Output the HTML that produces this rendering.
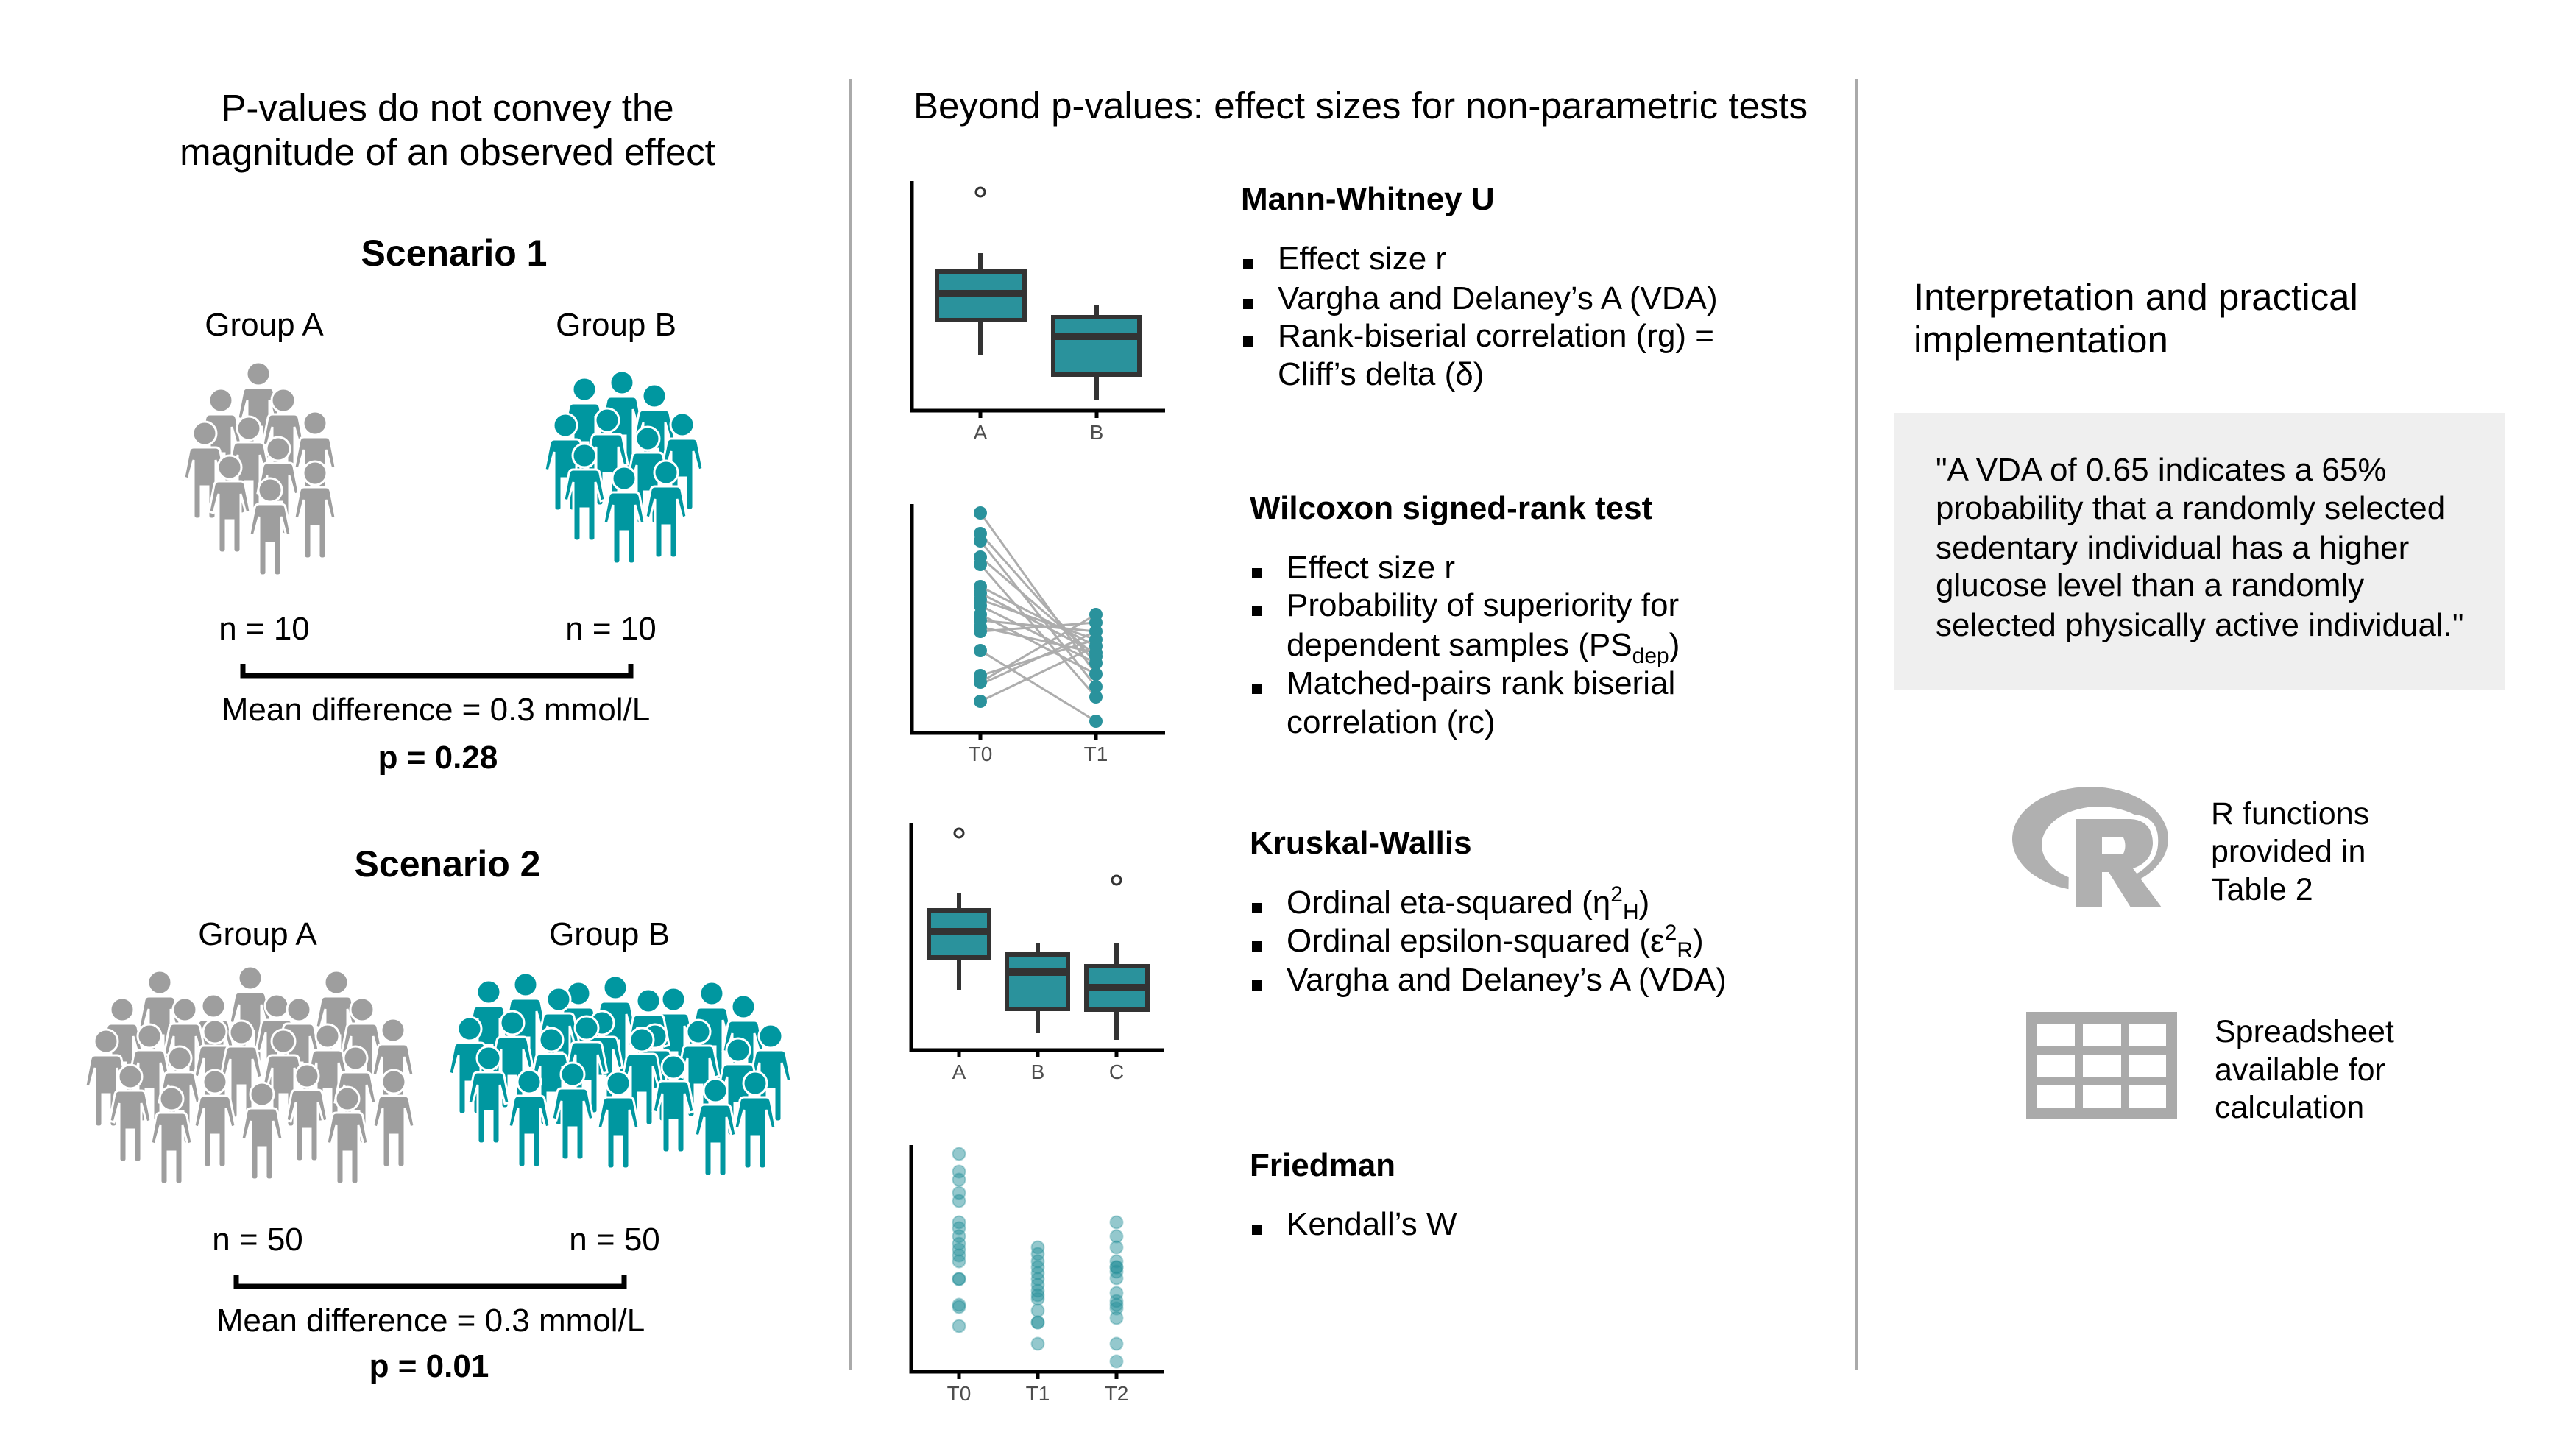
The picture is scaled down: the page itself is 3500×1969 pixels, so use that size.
<!DOCTYPE html>
<html><head><meta charset="utf-8"><style>
html,body{margin:0;padding:0;background:#fff;}
svg{display:block;font-family:"Liberation Sans",Arial,sans-serif;}
</style></head><body>
<svg width="3500" height="1969" viewBox="0 0 3500 1969" xmlns="http://www.w3.org/2000/svg">
<defs>
<path id="p" d="M0,0 m-16,16 a16,16 0 1,0 32,0 a16,16 0 1,0 -32,0 Z M-15,35 H15 Q20,35 21,40 L28,76 L22,78 L15,52 V128 Q15,132 10,132 Q5,132 5,128 V88 H-5 V128 Q-5,132 -10,132 Q-15,132 -15,128 V52 L-22,78 L-28,76 L-21,40 Q-20,35 -15,35 Z" stroke="#fff" stroke-width="3"/>
</defs>
<rect width="3500" height="1969" fill="#fff"/>
<line x1="1155" y1="108" x2="1155" y2="1862" stroke="#aaa" stroke-width="4"/>
<line x1="2522" y1="108" x2="2522" y2="1862" stroke="#aaa" stroke-width="4"/>

<g font-size="51" text-anchor="middle" fill="#000">
<text x="608" y="164">P-values do not convey the</text>
<text x="608" y="224">magnitude of an observed effect</text>
</g>
<g text-anchor="middle" fill="#000">
<text x="617" y="361" font-size="50" font-weight="bold">Scenario 1</text>
<text x="359" y="456" font-size="44">Group A</text>
<text x="837" y="456" font-size="44">Group B</text>
<text x="359" y="869" font-size="44">n = 10</text>
<text x="830" y="869" font-size="44">n = 10</text>
<text x="592" y="979" font-size="44">Mean difference = 0.3 mmol/L</text>
<text x="595" y="1044" font-size="44" font-weight="bold">p = 0.28</text>
<text x="608" y="1191" font-size="50" font-weight="bold">Scenario 2</text>
<text x="350" y="1284" font-size="44">Group A</text>
<text x="828" y="1284" font-size="44">Group B</text>
<text x="350" y="1699" font-size="44">n = 50</text>
<text x="835" y="1699" font-size="44">n = 50</text>
<text x="585" y="1809" font-size="44">Mean difference = 0.3 mmol/L</text>
<text x="583" y="1871" font-size="44" font-weight="bold">p = 0.01</text>
</g>
<path d="M330,902 V918 H857 V902" fill="none" stroke="#000" stroke-width="7"/>
<path d="M321,1732 V1748 H848 V1732" fill="none" stroke="#000" stroke-width="7"/>

<g fill="#9e9e9e">
<use href="#p" transform="translate(351,492)"/>
<use href="#p" transform="translate(300,528)"/>
<use href="#p" transform="translate(385,528)"/>
<use href="#p" transform="translate(428,559)"/>
<use href="#p" transform="translate(338,566)"/>
<use href="#p" transform="translate(278,573)"/>
<use href="#p" transform="translate(378,594)"/>
<use href="#p" transform="translate(312,619)"/>
<use href="#p" transform="translate(428,627)"/>
<use href="#p" transform="translate(367,650)"/>
</g>
<g fill="#0097a0">
<use href="#p" transform="translate(845,504)"/>
<use href="#p" transform="translate(794,513)"/>
<use href="#p" transform="translate(889,522)"/>
<use href="#p" transform="translate(825,555)"/>
<use href="#p" transform="translate(927,561)"/>
<use href="#p" transform="translate(768,562)"/>
<use href="#p" transform="translate(880,580)"/>
<use href="#p" transform="translate(794,603)"/>
<use href="#p" transform="translate(905,626)"/>
<use href="#p" transform="translate(848,634)"/>
</g>

<g fill="#9e9e9e">
<use href="#p" transform="translate(340,1313)"/>
<use href="#p" transform="translate(217,1319)"/>
<use href="#p" transform="translate(457,1319)"/>
<use href="#p" transform="translate(290,1351)"/>
<use href="#p" transform="translate(376,1351)"/>
<use href="#p" transform="translate(166,1356)"/>
<use href="#p" transform="translate(251,1356)"/>
<use href="#p" transform="translate(406,1356)"/>
<use href="#p" transform="translate(492,1356)"/>
<use href="#p" transform="translate(534,1384)"/>
<use href="#p" transform="translate(292,1386)"/>
<use href="#p" transform="translate(328,1387)"/>
<use href="#p" transform="translate(203,1392)"/>
<use href="#p" transform="translate(445,1392)"/>
<use href="#p" transform="translate(385,1399)"/>
<use href="#p" transform="translate(144,1399)"/>
<use href="#p" transform="translate(244,1422)"/>
<use href="#p" transform="translate(483,1422)"/>
<use href="#p" transform="translate(417,1446)"/>
<use href="#p" transform="translate(177,1447)"/>
<use href="#p" transform="translate(292,1454)"/>
<use href="#p" transform="translate(535,1454)"/>
<use href="#p" transform="translate(356,1471)"/>
<use href="#p" transform="translate(233,1477)"/>
<use href="#p" transform="translate(472,1477)"/>
</g>
<g fill="#0097a0">
<use href="#p" transform="translate(714,1322)"/>
<use href="#p" transform="translate(664,1332)"/>
<use href="#p" transform="translate(836,1326)"/>
<use href="#p" transform="translate(786,1334)"/>
<use href="#p" transform="translate(967,1334)"/>
<use href="#p" transform="translate(759,1342)"/>
<use href="#p" transform="translate(915,1342)"/>
<use href="#p" transform="translate(881,1344)"/>
<use href="#p" transform="translate(1010,1352)"/>
<use href="#p" transform="translate(696,1374)"/>
<use href="#p" transform="translate(818,1374)"/>
<use href="#p" transform="translate(638,1382)"/>
<use href="#p" transform="translate(797,1381)"/>
<use href="#p" transform="translate(949,1386)"/>
<use href="#p" transform="translate(890,1392)"/>
<use href="#p" transform="translate(1047,1392)"/>
<use href="#p" transform="translate(749,1397)"/>
<use href="#p" transform="translate(872,1397)"/>
<use href="#p" transform="translate(1003,1411)"/>
<use href="#p" transform="translate(664,1422)"/>
<use href="#p" transform="translate(915,1434)"/>
<use href="#p" transform="translate(778,1444)"/>
<use href="#p" transform="translate(719,1454)"/>
<use href="#p" transform="translate(840,1456)"/>
<use href="#p" transform="translate(1026,1456)"/>
<use href="#p" transform="translate(972,1466)"/>
</g>

<text x="1241" y="161" font-size="51" fill="#000">Beyond p-values: effect sizes for non-parametric tests</text>

<g stroke="#000" stroke-width="5" fill="none">
<path d="M1239,246 V558 H1583"/>
<path d="M1332,558 V568 M1490,558 V568"/>
</g>
<g stroke="#333" stroke-width="6">
<line x1="1332" y1="344" x2="1332" y2="482"/>
<rect x="1273" y="369" width="119" height="66" fill="#2a929c"/>
<line x1="1273" y1="399" x2="1392" y2="399" stroke-width="10"/>
<line x1="1490" y1="415" x2="1490" y2="543"/>
<rect x="1431" y="431" width="117" height="78" fill="#2a929c"/>
<line x1="1431" y1="457" x2="1548" y2="457" stroke-width="10"/>
</g>
<circle cx="1332" cy="261" r="6" fill="none" stroke="#333" stroke-width="3"/>
<g font-size="28" fill="#4d4d4d" text-anchor="middle">
<text x="1332" y="597">A</text><text x="1490" y="597">B</text>
</g>

<text x="1686" y="285" font-size="44" font-weight="bold">Mann-Whitney U</text>
<g font-size="44" fill="#000">
<rect x="1689" y="352" width="14" height="14"/><text x="1736" y="366">Effect size r</text>
<rect x="1689" y="406" width="14" height="14"/><text x="1736" y="420">Vargha and Delaney’s A (VDA)</text>
<rect x="1689" y="457" width="14" height="14"/><text x="1736" y="471">Rank-biserial correlation (rg) =</text>
<text x="1736" y="523">Cliff’s delta (δ)</text>
</g>

<g stroke="#000" stroke-width="5" fill="none">
<path d="M1239,685 V996 H1583"/>
<path d="M1332,996 V1006 M1489,996 V1006"/>
</g>
<g stroke="#777" stroke-width="3" opacity="0.6">
<line x1="1332" y1="697" x2="1489" y2="916"/>
<line x1="1332" y1="725" x2="1489" y2="901"/>
<line x1="1332" y1="735" x2="1489" y2="933"/>
<line x1="1332" y1="757" x2="1489" y2="892"/>
<line x1="1332" y1="767" x2="1489" y2="947"/>
<line x1="1332" y1="797" x2="1489" y2="878"/>
<line x1="1332" y1="806" x2="1489" y2="887"/>
<line x1="1332" y1="815" x2="1489" y2="869"/>
<line x1="1332" y1="823" x2="1489" y2="901"/>
<line x1="1332" y1="835" x2="1489" y2="916"/>
<line x1="1332" y1="843" x2="1489" y2="858"/>
<line x1="1332" y1="852" x2="1489" y2="887"/>
<line x1="1332" y1="858" x2="1489" y2="846"/>
<line x1="1332" y1="884" x2="1489" y2="980"/>
<line x1="1332" y1="918" x2="1489" y2="869"/>
<line x1="1332" y1="927" x2="1489" y2="835"/>
<line x1="1332" y1="953" x2="1489" y2="878"/>
<line x1="1332" y1="930" x2="1489" y2="858"/>
</g>
<g fill="#2a929c">
<circle cx="1332" cy="697" r="9"/><circle cx="1332" cy="725" r="9"/><circle cx="1332" cy="735" r="9"/><circle cx="1332" cy="757" r="9"/><circle cx="1332" cy="767" r="9"/><circle cx="1332" cy="797" r="9"/><circle cx="1332" cy="806" r="9"/><circle cx="1332" cy="815" r="9"/><circle cx="1332" cy="823" r="9"/><circle cx="1332" cy="835" r="9"/><circle cx="1332" cy="843" r="9"/><circle cx="1332" cy="852" r="9"/><circle cx="1332" cy="858" r="9"/><circle cx="1332" cy="884" r="9"/><circle cx="1332" cy="918" r="9"/><circle cx="1332" cy="927" r="9"/><circle cx="1332" cy="953" r="9"/>
<circle cx="1489" cy="835" r="9"/><circle cx="1489" cy="846" r="9"/><circle cx="1489" cy="858" r="9"/><circle cx="1489" cy="869" r="9"/><circle cx="1489" cy="878" r="9"/><circle cx="1489" cy="887" r="9"/><circle cx="1489" cy="892" r="9"/><circle cx="1489" cy="901" r="9"/><circle cx="1489" cy="916" r="9"/><circle cx="1489" cy="933" r="9"/><circle cx="1489" cy="947" r="9"/><circle cx="1489" cy="980" r="9"/>
</g>
<g font-size="28" fill="#4d4d4d" text-anchor="middle">
<text x="1332" y="1034">T0</text><text x="1489" y="1034">T1</text>
</g>

<text x="1698" y="705" font-size="44" font-weight="bold">Wilcoxon signed-rank test</text>
<g font-size="44" fill="#000">
<rect x="1701" y="772" width="14" height="14"/><text x="1748" y="786">Effect size r</text>
<rect x="1701" y="823" width="14" height="14"/><text x="1748" y="837">Probability of superiority for</text>
<text x="1748" y="891">dependent samples (PS<tspan font-size="30" dy="10">dep</tspan><tspan dy="-10">)</tspan></text>
<rect x="1701" y="929" width="14" height="14"/><text x="1748" y="943">Matched-pairs rank biserial</text>
<text x="1748" y="996">correlation (rc)</text>
</g>

<g stroke="#000" stroke-width="5" fill="none">
<path d="M1238,1119 V1427 H1582"/>
<path d="M1303,1427 V1437 M1410,1427 V1437 M1517,1427 V1437"/>
</g>
<g stroke="#333" stroke-width="6">
<line x1="1303" y1="1213" x2="1303" y2="1345"/>
<rect x="1262" y="1237" width="82" height="64" fill="#2a929c"/>
<line x1="1262" y1="1266" x2="1344" y2="1266" stroke-width="10"/>
<line x1="1410" y1="1282" x2="1410" y2="1404"/>
<rect x="1368" y="1297" width="83" height="74" fill="#2a929c"/>
<line x1="1368" y1="1321" x2="1451" y2="1321" stroke-width="10"/>
<line x1="1517" y1="1282" x2="1517" y2="1413"/>
<rect x="1476" y="1313" width="83" height="59" fill="#2a929c"/>
<line x1="1476" y1="1342" x2="1559" y2="1342" stroke-width="10"/>
</g>
<circle cx="1303" cy="1132" r="6" fill="none" stroke="#333" stroke-width="3"/>
<circle cx="1517" cy="1196" r="6" fill="none" stroke="#333" stroke-width="3"/>
<g font-size="28" fill="#4d4d4d" text-anchor="middle">
<text x="1303" y="1466">A</text><text x="1410" y="1466">B</text><text x="1517" y="1466">C</text>
</g>

<text x="1698" y="1160" font-size="44" font-weight="bold">Kruskal-Wallis</text>
<g font-size="44" fill="#000">
<rect x="1701" y="1227" width="14" height="14"/><text x="1748" y="1241">Ordinal eta-squared (η<tspan font-size="30" dy="-16">2</tspan><tspan font-size="30" dy="24">H</tspan><tspan dy="-8">)</tspan></text>
<rect x="1701" y="1279" width="14" height="14"/><text x="1748" y="1293">Ordinal epsilon-squared (ε<tspan font-size="30" dy="-16">2</tspan><tspan font-size="30" dy="24">R</tspan><tspan dy="-8">)</tspan></text>
<rect x="1701" y="1332" width="14" height="14"/><text x="1748" y="1346">Vargha and Delaney’s A (VDA)</text>
</g>

<g stroke="#000" stroke-width="5" fill="none">
<path d="M1238,1556 V1864 H1582"/>
<path d="M1303,1864 V1874 M1410,1864 V1874 M1517,1864 V1874"/>
</g>
<g fill="#2a929c" fill-opacity="0.5" stroke="#2a929c" stroke-opacity="0.35" stroke-width="2">
<circle cx="1303" cy="1568" r="8.5"/><circle cx="1303" cy="1592" r="8.5"/><circle cx="1303" cy="1603" r="8.5"/><circle cx="1303" cy="1621" r="8.5"/><circle cx="1303" cy="1632" r="8.5"/><circle cx="1303" cy="1661" r="8.5"/><circle cx="1303" cy="1669" r="8.5"/><circle cx="1303" cy="1680" r="8.5"/><circle cx="1303" cy="1690" r="8.5"/><circle cx="1303" cy="1698" r="8.5"/><circle cx="1303" cy="1706" r="8.5"/><circle cx="1303" cy="1714" r="8.5"/><circle cx="1303" cy="1738" r="8.5"/><circle cx="1303" cy="1738" r="8.5"/><circle cx="1303" cy="1773" r="8.5"/><circle cx="1303" cy="1776" r="8.5"/><circle cx="1303" cy="1802" r="8.5"/>
<circle cx="1410" cy="1695" r="8.5"/><circle cx="1410" cy="1704" r="8.5"/><circle cx="1410" cy="1714" r="8.5"/><circle cx="1410" cy="1722" r="8.5"/><circle cx="1410" cy="1730" r="8.5"/><circle cx="1410" cy="1738" r="8.5"/><circle cx="1410" cy="1746" r="8.5"/><circle cx="1410" cy="1754" r="8.5"/><circle cx="1410" cy="1760" r="8.5"/><circle cx="1410" cy="1765" r="8.5"/><circle cx="1410" cy="1781" r="8.5"/><circle cx="1410" cy="1797" r="8.5"/><circle cx="1410" cy="1797" r="8.5"/><circle cx="1410" cy="1826" r="8.5"/>
<circle cx="1517" cy="1661" r="8.5"/><circle cx="1517" cy="1680" r="8.5"/><circle cx="1517" cy="1695" r="8.5"/><circle cx="1517" cy="1714" r="8.5"/><circle cx="1517" cy="1722" r="8.5"/><circle cx="1517" cy="1722" r="8.5"/><circle cx="1517" cy="1728" r="8.5"/><circle cx="1517" cy="1737" r="8.5"/><circle cx="1517" cy="1757" r="8.5"/><circle cx="1517" cy="1768" r="8.5"/><circle cx="1517" cy="1773" r="8.5"/><circle cx="1517" cy="1778" r="8.5"/><circle cx="1517" cy="1791" r="8.5"/><circle cx="1517" cy="1826" r="8.5"/><circle cx="1517" cy="1850" r="8.5"/>
</g>
<g font-size="28" fill="#4d4d4d" text-anchor="middle">
<text x="1303" y="1903">T0</text><text x="1410" y="1903">T1</text><text x="1517" y="1903">T2</text>
</g>

<text x="1698" y="1598" font-size="44" font-weight="bold">Friedman</text>
<g font-size="44" fill="#000">
<rect x="1701" y="1664" width="14" height="14"/><text x="1748" y="1678">Kendall’s W</text>
</g>

<g font-size="51" fill="#000">
<text x="2600" y="421">Interpretation and practical</text>
<text x="2600" y="479">implementation</text>
</g>
<rect x="2573" y="561" width="831" height="377" fill="#efefef"/>
<g font-size="44" fill="#000">
<text x="2630" y="653">"A VDA of 0.65 indicates a 65%</text>
<text x="2630" y="705">probability that a randomly selected</text>
<text x="2630" y="759">sedentary individual has a higher</text>
<text x="2630" y="810">glucose level than a randomly</text>
<text x="2630" y="864">selected physically active individual."</text>
</g>

<path fill="#b0b0b0" fill-rule="evenodd" d="M2734,1140 a106,71 0 1,0 212,0 a106,71 0 1,0 -212,0 Z M2774,1148 a78,52 0 1,0 156,0 a78,52 0 1,0 -156,0 Z"/>
<path fill="#fff" d="M2812,1107 H2900 Q2935,1110 2932,1148 Q2930,1175 2900,1186 L2934,1240 H2810 Z"/>
<path fill="#b0b0b0" fill-rule="evenodd" d="M2820,1113 H2895 Q2925,1115 2925,1147 Q2923,1172 2898,1180 L2937,1233 H2895 L2865,1185 H2856 V1233 H2820 Z M2856,1138 H2885 Q2890,1149 2885,1160 H2856 Z"/>
<g font-size="43" fill="#000">
<text x="3004" y="1120">R functions</text>
<text x="3004" y="1171">provided in</text>
<text x="3004" y="1223">Table 2</text>
</g>
<rect x="2753" y="1375" width="205" height="145" fill="#aaa"/>
<g fill="#fff">
<rect x="2768" y="1392" width="51" height="29"/><rect x="2830" y="1392" width="52" height="29"/><rect x="2892" y="1392" width="51" height="29"/>
<rect x="2768" y="1433" width="51" height="30"/><rect x="2830" y="1433" width="52" height="30"/><rect x="2892" y="1433" width="51" height="30"/>
<rect x="2768" y="1474" width="51" height="31"/><rect x="2830" y="1474" width="52" height="31"/><rect x="2892" y="1474" width="51" height="31"/>
</g>
<g font-size="43" fill="#000">
<text x="3009" y="1416">Spreadsheet</text>
<text x="3009" y="1468">available for</text>
<text x="3009" y="1519">calculation</text>
</g>
</svg>
</body></html>
